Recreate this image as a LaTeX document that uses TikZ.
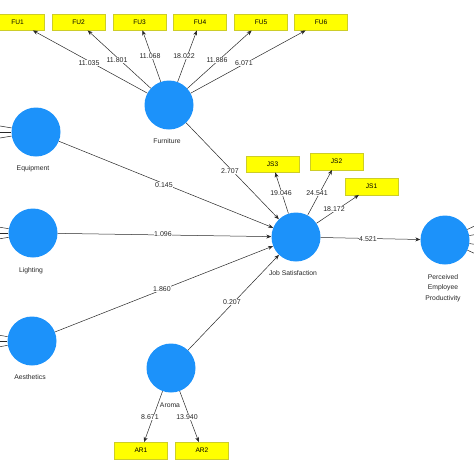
\documentclass[tikz,border=0pt]{standalone}
\usepackage{fontspec}
\setmainfont{Liberation Sans}
\usetikzlibrary{arrows.meta}
\definecolor{lvblue}{RGB}{28,146,250}
\definecolor{ind}{RGB}{255,255,0}
\definecolor{indborder}{RGB}{205,205,40}
\definecolor{lin}{RGB}{40,40,40}
\tikzset{
  lv/.style={circle,fill=lvblue,minimum size=49pt,inner sep=0pt},
  mv/.style={rectangle,fill=ind,draw=indborder,line width=0.4pt,minimum width=53pt,minimum height=16.5pt,inner sep=0pt,font=\fontsize{6.6}{7}\selectfont},
  lvname/.style={font=\fontsize{6.8}{10.5}\selectfont,inner sep=0.5pt,align=center,text=black!85},
  coef/.style={fill=white,font=\fontsize{7}{8}\selectfont,inner sep=0.5pt,text=black!85},
  link/.style={draw=lin,line width=0.5pt,-{Stealth[length=5pt,width=4pt]}},
  stub/.style={draw=lin,line width=0.5pt},
}
\begin{document}
\begin{tikzpicture}[x=1pt,y=-1pt]
\useasboundingbox (0,0) rectangle (474,474);
\begin{scope}
\clip (0,0) rectangle (474,474);
% latent variables
\node[lv] (fur) at (169,105) {};
\node[lv] (eq) at (36,132) {};
\node[lv] (li) at (33,233) {};
\node[lv] (ae) at (32,341) {};
\node[lv] (ar) at (171,368) {};
\node[lv] (js) at (296,237) {};
\node[lv] (pep) at (445,240) {};
% indicators
\node[mv] (fu1) at (17.5,22) {FU1};
\node[mv] (fu2) at (78.5,22) {FU2};
\node[mv] (fu3) at (139.5,22) {FU3};
\node[mv] (fu4) at (200,22) {FU4};
\node[mv] (fu5) at (261,22) {FU5};
\node[mv] (fu6) at (321,22) {FU6};
\node[mv] (js3) at (272.5,164) {JS3};
\node[mv] (js2) at (336.5,161.5) {JS2};
\node[mv] (js1) at (371.5,186.5) {JS1};
\node[mv] (ar1) at (141,450.5) {AR1};
\node[mv] (ar2) at (202,450.5) {AR2};
% off-page stubs
\coordinate (eqa) at (-30,121); \coordinate (eqb) at (-30,132); \coordinate (eqc) at (-30,143);
\coordinate (lia) at (-30,222); \coordinate (lib) at (-30,233); \coordinate (lic) at (-30,244);
\coordinate (aea) at (-30,330); \coordinate (aeb) at (-30,341); \coordinate (aec) at (-30,352);
\coordinate (pepa) at (500,214); \coordinate (pepb) at (500,230); \coordinate (pepc) at (500,248); \coordinate (pepd) at (500,265);
\foreach \a/\b in {eq/eqa,eq/eqb,eq/eqc,li/lia,li/lib,li/lic,ae/aea,ae/aeb,ae/aec,pep/pepa,pep/pepb,pep/pepc,pep/pepd}
  \draw[stub] (\a) -- (\b);
% outer loadings
\foreach \t in {fu1,fu2,fu3,fu4,fu5,fu6} \draw[link] (fur) -- (\t);
\foreach \t in {js1,js2,js3} \draw[link] (js) -- (\t);
\foreach \t in {ar1,ar2} \draw[link] (ar) -- (\t);
% structural paths
\foreach \s in {fur,eq,li,ae,ar} \draw[link] (\s) -- (js);
\draw[link] (js) -- (pep);
\end{scope}
% names
\node[lvname] (nfur) at (167,141) {Furniture};
\node[lvname] (neq) at (33,169) {Equipment};
\node[lvname] (nli) at (31,271) {Lighting};
\node[lvname] (nae) at (30,377) {Aesthetics};
\node[lvname,fill=white] (nar) at (170,405) {Aroma};
\node[lvname] (njs) at (293,273) {Job Satisfaction};
\node[lvname] (npep) at (443,288) {Perceived\\Employee\\Productivity};
% coefficients
\node[coef] (c1) at (89,63) {11.035};
\node[coef] (c2) at (117,60) {11.801};
\node[coef] (c3) at (150,56) {11.068};
\node[coef] (c4) at (184,56) {18.022};
\node[coef] (c5) at (217,60) {11.886};
\node[coef] (c6) at (244,63) {6.071};
\node[coef] (c7) at (230,171) {2.707};
\node[coef] (c8) at (164,185) {0.145};
\node[coef] (c9) at (163,234) {1.096};
\node[coef] (c10) at (162,289) {1.860};
\node[coef] (c11) at (232,302) {0.207};
\node[coef] (c12) at (368,239) {4.521};
\node[coef] (c13) at (281,193) {19.046};
\node[coef] (c14) at (317,193) {24.541};
\node[coef] (c15) at (334,209) {18.172};
\node[coef] (c16) at (150,417) {8.671};
\node[coef] (c17) at (187,417) {13.940};
\end{tikzpicture}
\end{document}
